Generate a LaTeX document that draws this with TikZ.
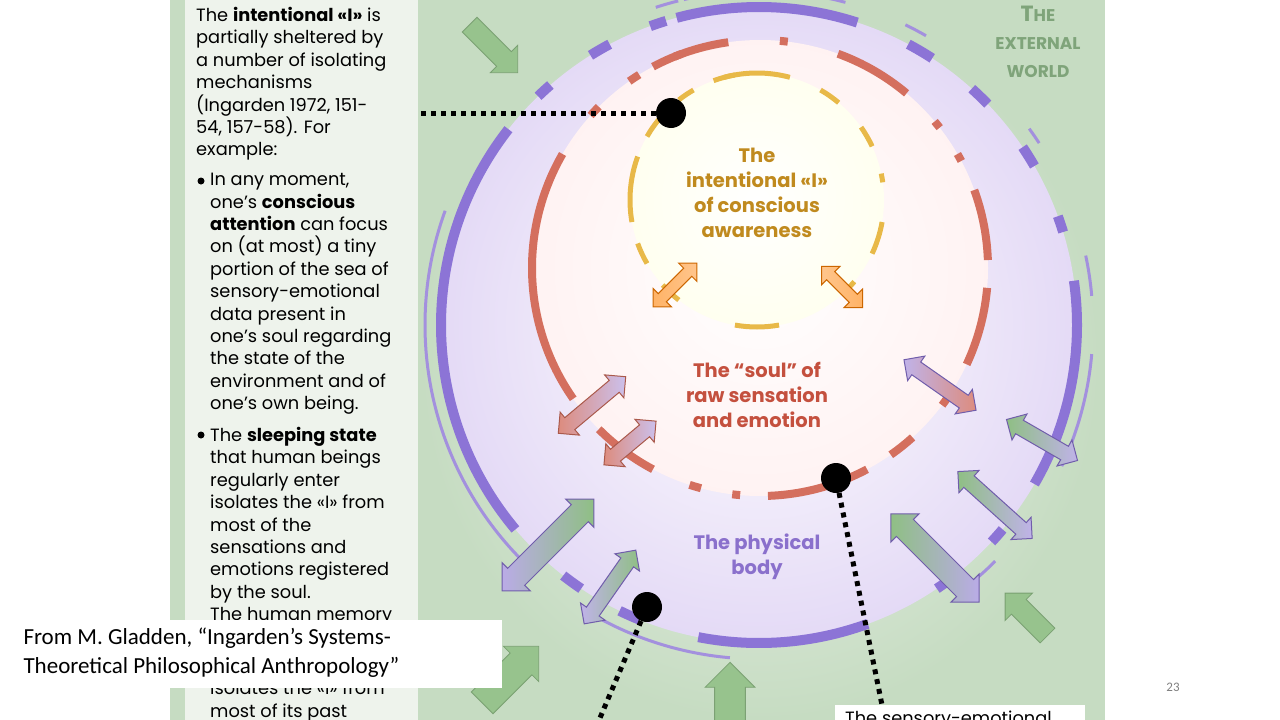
\documentclass[tikz,border=0pt]{standalone}
\usepackage{fontspec}
\setmainfont{Poppins}
\newfontfamily\capfont{Carlito}
\usetikzlibrary{shapes.arrows}
\definecolor{bgreen}{HTML}{C6DCC2}
\definecolor{pgreen}{HTML}{EEF3EC}
\definecolor{purp}{HTML}{8C74D6}
\definecolor{lav}{HTML}{E4DAF6}
\definecolor{redr}{HTML}{D46F5E}
\definecolor{yel}{HTML}{E8B948}
\definecolor{ytext}{HTML}{C08A1E}
\definecolor{rtext}{HTML}{C4503E}
\definecolor{ptext}{HTML}{8A70CC}
\definecolor{gtext}{HTML}{7FA47A}
\definecolor{garrow}{HTML}{8FBF84}
\tikzset{
  dbl/.style={double arrow, draw=#1!80!black, line width=1pt, minimum width=30pt, double arrow head extend=7pt, inner xsep=0pt, inner ysep=7pt},
  sgl/.style={single arrow, fill=garrow, draw=garrow!80!black, line width=0.8pt, minimum width=38pt, single arrow head extend=9pt, inner xsep=0pt, inner ysep=10pt, opacity=0.85},
  dots/.style={line width=5pt, dash pattern=on 5pt off 5pt},
  bigdot/.style={circle, fill=black, minimum size=30pt, inner sep=0pt},
  body/.style={font=\fontsize{17.8}{22.4}\selectfont, align=left, anchor=north west, inner sep=0pt},
  lab/.style={font=\bfseries\fontsize{19.5}{25}\selectfont, align=center},
  bul/.style={circle, fill=black, minimum size=7pt, inner sep=0pt}
}
\begin{document}
\begin{tikzpicture}[x=1pt,y=-1pt]
\useasboundingbox (0,0) rectangle (1280,720);
\begin{scope}
\clip (0,0) rectangle (1280,720);
\fill[white] (0,0) rectangle (1280,720);
\fill[bgreen] (170,0) rectangle (1105,720);
\shade[inner color=pgreen, outer color=bgreen] (420,0) rectangle (1100,720);
\fill[pgreen] (185,0) rectangle (418,720);
\coordinate (pc) at (759,325);
\shade[inner color=white, outer color=lav] (pc) circle (318);
\shade[inner color=white, outer color=red!5] (760,268) circle (228);
\shade[inner color=white, outer color=yellow!6] (757,200) circle (127);
% purple ring segments
\foreach \a/\b in {-105/-72, -62/-57, -48/-44, -34/-30, -20/-17, -8/30, 40/43, 52/56, 70/101, 112/116, 124/128, 140/218, 226/229, 238/242, 250/253}
  \draw[purp, line width=10pt] (pc) ++(\a:318) arc[start angle=\a, end angle=\b, radius=318];
\foreach \a/\b in {-103/-75, -64/-60, -36/-33, -12/-5, 5/25, 45/50, 95/118, 135/200, 252/256}
  \draw[purp!80, line width=3pt] (pc) ++(\a:334) arc[start angle=\a, end angle=\b, radius=334];
% red ring
\coordinate (rc) at (760,268);
\foreach \a/\b in {-118/-98, -85/-83, -70/-50, -40/-38, -30/-28, -20/-2, 5/25, 35/37, 48/55, 62/88, 95/97, 105/108, 118/135, 145/210, 222/225, 235/238, 248/250}
  \draw[redr, line width=8pt] (rc) ++(\a:228) arc[start angle=\a, end angle=\b, radius=228];
% yellow ring
\coordinate (yc) at (757,200);
\foreach \a/\b in {-105/-75, -60/-50, -35/-25, -12/-8, 10/25, 40/48, 80/100, 128/138, 150/160, 170/200, 210/220, 232/240, 250/260}
  \draw[yel, line width=5pt] (yc) ++(\a:127) arc[start angle=\a, end angle=\b, radius=127];
% labels
\node[lab, text=ytext] (yl) at (757,193) {The\\intentional «I»\\of conscious\\awareness};
\node[lab, text=rtext] (rl) at (757,395) {The “soul” of\\raw sensation\\and emotion};
\node[lab, text=ptext] (pl) at (757,557) {The physical\\body};
\node[font=\bfseries\fontsize{17}{28}\selectfont, text=gtext, align=center] (ew) at (1038,42) {{\fontsize{22}{28}\selectfont T}HE\\EXTERNAL\\WORLD};
% arrows
\node[dbl=orange, left color=orange!60, right color=orange!45, minimum height=62pt, minimum width=26pt, inner ysep=5pt, rotate=45] (o1) at (675,285) {};
\node[dbl=orange, left color=orange!45, right color=orange!60, minimum height=58pt, minimum width=26pt, inner ysep=5pt, rotate=-45] (o2) at (842,287) {};
\node[dbl=redr, left color=redr!80, right color=purp!45, minimum height=88pt, rotate=40] (r1) at (592,405) {};
\node[dbl=redr, left color=redr!80, right color=purp!45, minimum height=68pt, rotate=40] (r2) at (630,443) {};
\node[dbl=purp, left color=purp!55, right color=redr!80, minimum height=88pt, rotate=-35] (r3) at (940,385) {};
\node[dbl=purp, left color=garrow, right color=purp!55, minimum height=82pt, rotate=-30] (g1) at (1042,440) {};
\node[dbl=purp, left color=garrow, right color=purp!55, minimum height=100pt, rotate=-42] (g2) at (995,505) {};
\node[dbl=purp, left color=garrow, right color=purp!60, minimum height=125pt, minimum width=40pt, inner ysep=10pt, rotate=-45] (g3) at (935,558) {};
\node[dbl=purp, left color=purp!60, right color=garrow, minimum height=130pt, minimum width=40pt, inner ysep=10pt, rotate=45] (g4) at (548,545) {};
\node[dbl=purp, left color=purp!55, right color=garrow, minimum height=90pt, rotate=55] (g5) at (610,587) {};
\node[sgl, minimum height=68pt, rotate=-45] (s1) at (490,45) {};
\node[sgl, minimum height=60pt, rotate=135] (s2) at (1030,618) {};
\node[sgl, minimum height=80pt, minimum width=50pt, inner ysep=14pt, rotate=45] (s3) at (505,680) {};
\node[sgl, minimum height=60pt, minimum width=50pt, inner ysep=14pt, rotate=90] (s4) at (730,700) {};
% dots and dotted lines
\node[bigdot] (d1) at (671,113) {};
\node[bigdot] (d2) at (836,478) {};
\node[bigdot] (d3) at (647,607) {};
\coordinate (e1) at (420,113);
\coordinate (e2) at (882,705);
\coordinate (e3) at (597,725);
\draw[dots] (d1) -- (e1);
\draw[dots] (d2) -- (e2);
\draw[dots] (d3) -- (e3);
% left text
\node[body] (t1) at (196,7) {The \textbf{intentional «I»} is\\partially sheltered by\\a number of isolating\\mechanisms\\(Ingarden 1972, 151-\\54, 157-58). For\\example:};
\node[bul] (b1) at (201,181) {};
\node[body] (t2) at (210,173) {In any moment,\\one’s \textbf{conscious}\\\textbf{attention} can focus\\on (at most) a tiny\\portion of the sea of\\sensory-emotional\\data present in\\one’s soul regarding\\the state of the\\environment and of\\one’s own being.};
\node[bul] (b2) at (201,435) {};
\node[body] (t3) at (210,427) {The \textbf{sleeping state}\\that human beings\\regularly enter\\isolates the «I» from\\most of the\\sensations and\\emotions registered\\by the soul.\\The human memory};
\node[body] (t4) at (210,681) {isolates the «I» from\\most of its past};
% caption
\fill[white] (0,620) rectangle (502,688);
\node[font=\capfont\fontsize{23}{29}\selectfont, align=left, anchor=west] (cap) at (20,653) {From M. Gladden, “Ingarden’s Systems-\\Theoretical Philosophical Anthropology”};
\fill[white] (835,705) rectangle (1085,720);
\node[font=\fontsize{17.8}{20}\selectfont, anchor=north west, inner sep=0pt] (se) at (845,711) {The sensory-emotional};
\node[font=\capfont\fontsize{13}{15}\selectfont, text=gray] (pg) at (1173,687) {23};
\end{scope}
\end{tikzpicture}
\end{document}
